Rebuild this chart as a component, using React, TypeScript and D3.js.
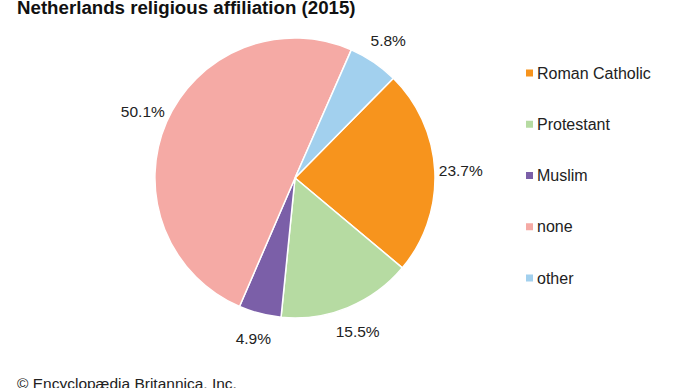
import React from 'react';
import * as d3 from 'd3';

const categories = ['Roman Catholic', 'Protestant', 'Muslim', 'none', 'other'];
const shares = [23.7, 15.5, 4.9, 50.1, 5.8];
const colors = ['#f7941d', '#b6dba2', '#7b5fa8', '#f5aaa5', '#a2d0ee'];

const WIDTH = 690;
const HEIGHT = 388;

export default function App() {
  const cx = 295;
  const cy = 178;
  const radius = 140;
  const labelRadius = 166;

  // slices go clockwise, Roman Catholic starting a bit right of top
  const startAngle = (44.6 * Math.PI) / 180;
  const pie = d3
    .pie<number>()
    .sort(null)
    .value(d => d)
    .startAngle(startAngle)
    .endAngle(startAngle + Math.PI * 2);
  const arcs = pie(shares);

  const arc = d3.arc<d3.PieArcDatum<number>>().innerRadius(0).outerRadius(radius);
  const labelArc = d3
    .arc<d3.PieArcDatum<number>>()
    .innerRadius(labelRadius)
    .outerRadius(labelRadius);

  const legendY = d3.scalePoint<string>().domain(categories).range([73, 278]);

  return (
    <svg
      width={WIDTH}
      height={HEIGHT}
      style={{ position: 'absolute', left: 0, top: 0, background: '#fff' }}
      fontFamily="'Liberation Sans', Arial, sans-serif"
    >
      <text x={17} y={14} fontSize={18.7} fontWeight="bold" fill="#111">
        Netherlands religious affiliation (2015)
      </text>

      <g transform={`translate(${cx},${cy})`}>
        {arcs.map((a, i) => (
          <path key={categories[i]} d={arc(a) ?? ''} fill={colors[i]} stroke="#fff" strokeWidth={1.5} />
        ))}
        {arcs.map((a, i) => {
          const [x, y] = labelArc.centroid(a);
          return (
            <text
              key={'l' + i}
              x={x}
              y={y}
              fontSize={15.5}
              fill="#222"
              textAnchor="middle"
              dominantBaseline="central"
            >
              {shares[i].toFixed(1)}%
            </text>
          );
        })}
      </g>

      {categories.map((c, i) => {
        const y = legendY(c) ?? 0;
        return (
          <g key={c}>
            <rect x={526} y={y - 3.5} width={7} height={7} fill={colors[i]} />
            <text x={537} y={y} fontSize={16} fill="#222" dominantBaseline="central">
              {c}
            </text>
          </g>
        );
      })}

      <text x={17} y={389} fontSize={15.5} fill="#222">
        © Encyclopædia Britannica, Inc.
      </text>
    </svg>
  );
}
